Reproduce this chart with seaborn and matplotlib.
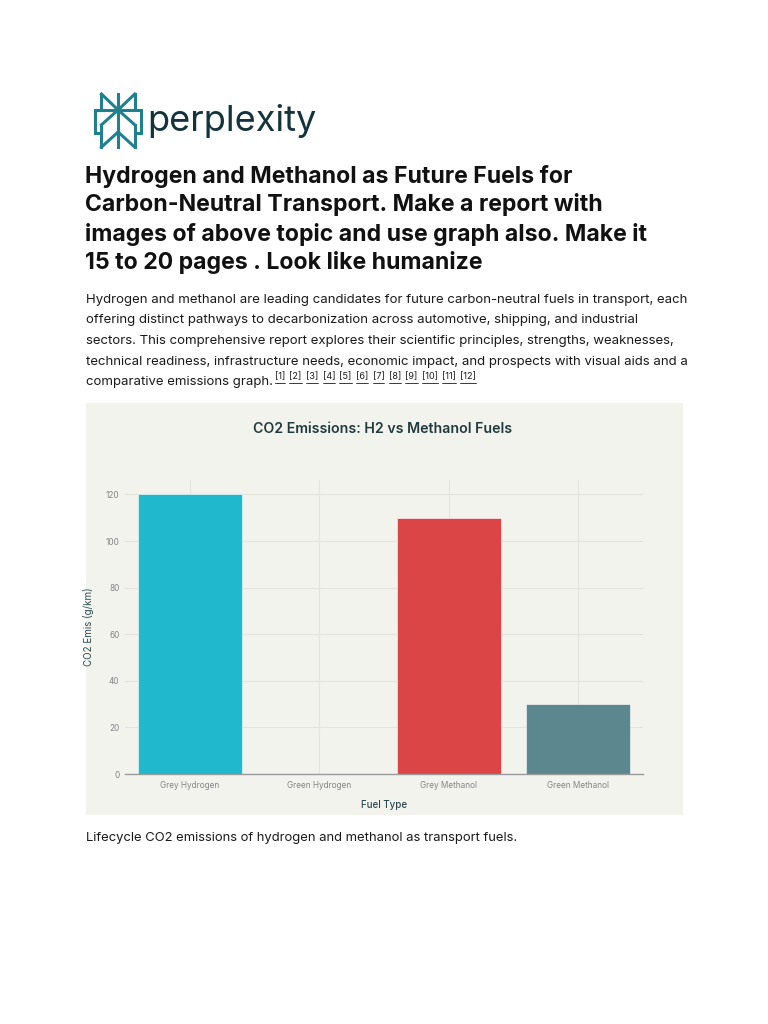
import matplotlib
matplotlib.use("Agg")
import matplotlib.pyplot as plt
import seaborn as sns
import pandas as pd
from matplotlib.patches import Rectangle

# chart data
fuel_types = ["Grey Hydrogen", "Green Hydrogen", "Grey Methanol", "Green Methanol"]
co2_emissions = [120, 0, 110, 30]
bar_colors = ["#1FB8CD", "#5D878F", "#DB4545", "#5D878F"]
y_ticks = [0, 20, 40, 60, 80, 100, 120]

# page text
heading_lines = [
    "Hydrogen and Methanol as Future Fuels for",
    "Carbon-Neutral Transport. Make a report with",
    "images of above topic and use graph also. Make it",
    "15 to 20 pages . Look like humanize",
]
intro_lines = [
    "Hydrogen and methanol are leading candidates for future carbon-neutral fuels in transport, each",
    "offering distinct pathways to decarbonization across automotive, shipping, and industrial",
    "sectors. This comprehensive report explores their scientific principles, strengths, weaknesses,",
    "technical readiness, infrastructure needs, economic impact, and prospects with visual aids and a",
    "comparative emissions graph.",
]
refs = [f"[{i}]" for i in range(1, 13)]
caption = "Lifecycle CO2 emissions of hydrogen and methanol as transport fuels."

sns.set_theme(style="white")
plt.rcParams["font.family"] = ["Inter", "DejaVu Sans"]

W, H = 768, 1024
fig = plt.figure(figsize=(W / 100, H / 100), dpi=100)
fig.patch.set_facecolor("white")

# page layer in pixel coordinates
page = fig.add_axes([0, 0, 1, 1])
page.set_xlim(0, W)
page.set_ylim(H, 0)
page.axis("off")

# logo mark
teal = "#21808D"
sx, ox, oy = 0.168, 84.5, 87
segs = [
    ((101, 42), (101, 136.5)), ((101, 42), (200, 136.5)),
    ((299, 42), (299, 136.5)), ((299, 42), (200, 136.5)),
    ((200, 42), (200, 358)),
    ((64, 136.5), (336, 136.5)),
    ((64, 136.5), (64, 273)), ((64, 273), (101, 273)),
    ((336, 136.5), (336, 273)), ((336, 273), (299, 273)),
    ((200, 136.5), (101, 225)), ((101, 225), (101, 358)), ((101, 358), (200, 268)),
    ((200, 136.5), (299, 225)), ((299, 225), (299, 358)), ((299, 358), (200, 268)),
]
for (x0, y0), (x1, y1) in segs:
    page.plot([ox + x0 * sx, ox + x1 * sx], [oy + y0 * sx, oy + y1 * sx],
              color=teal, lw=2.2, solid_capstyle="projecting")
page.text(147, 121, "perplexity", fontsize=26, color="#13343B", va="center", ha="left")

for i, line in enumerate(heading_lines):
    page.text(85, 176 + i * 29, line, fontsize=16.6, fontweight="bold",
              color="#111111", va="center", ha="left")

for i, line in enumerate(intro_lines):
    page.text(86, 300 + i * 20.5, line, fontsize=9.5, color="#1a1a1a",
              va="center", ha="left")

# reference markers after the last intro line
fig.canvas.draw()
rend = fig.canvas.get_renderer()
bb = page.texts[-1].get_window_extent(rend)
rx = bb.x1 + 2
for r in refs:
    t = page.text(rx, 377, r, fontsize=6.6, color="#1a1a1a", va="center", ha="left")
    b = t.get_window_extent(rend)
    page.plot([rx, rx + b.width], [383, 383], color="#1a1a1a", lw=0.6)
    rx += b.width + 4.2

page.text(86, 838, caption, fontsize=9.4, color="#1a1a1a", va="center", ha="left")

# chart panel
page.add_patch(Rectangle((86, 403), 597, 412, facecolor="#F3F3EE", edgecolor="none"))
page.text(383, 429, "CO2 Emissions: H2 vs Methanol Fuels", fontsize=10.2, fontweight=600,
          color="#1F3A3D", ha="center", va="center")

ax = fig.add_axes([125 / W, 1 - 774 / H, (643 - 125) / W, (774 - 480) / H])
ax.set_facecolor("#F3F3EE")
df = pd.DataFrame({"Fuel Type": fuel_types, "CO2": co2_emissions})
sns.barplot(data=df, x="Fuel Type", y="CO2", hue="Fuel Type", palette=bar_colors,
            saturation=1, width=0.8, legend=False, ax=ax, zorder=3,
            edgecolor="white", linewidth=0.4)
ax.set_ylim(0, 126.2)
ax.set_xlim(-0.5, 3.5)
ax.set_yticks(y_ticks)
ax.grid(True, color="#E4E4DD", lw=0.8, zorder=0)
ax.set_axisbelow(True)
for s in ["top", "right", "left"]:
    ax.spines[s].set_visible(False)
ax.spines["bottom"].set_color("#9a9a9a")
ax.spines["bottom"].set_linewidth(1.0)
ax.spines["bottom"].set_zorder(4)
ax.tick_params(axis="both", length=0, labelsize=5.9, labelcolor="#858585")
ax.tick_params(axis="x", pad=5)
ax.tick_params(axis="y", pad=4)
ax.set_xlabel("Fuel Type", fontsize=7.0, fontweight=500, color="#2B4A50", labelpad=7)
ax.set_ylabel("CO2 Emis (g/km)", fontsize=7.0, color="#2B4A50", labelpad=8)

fig.savefig("out.png", dpi=100)
